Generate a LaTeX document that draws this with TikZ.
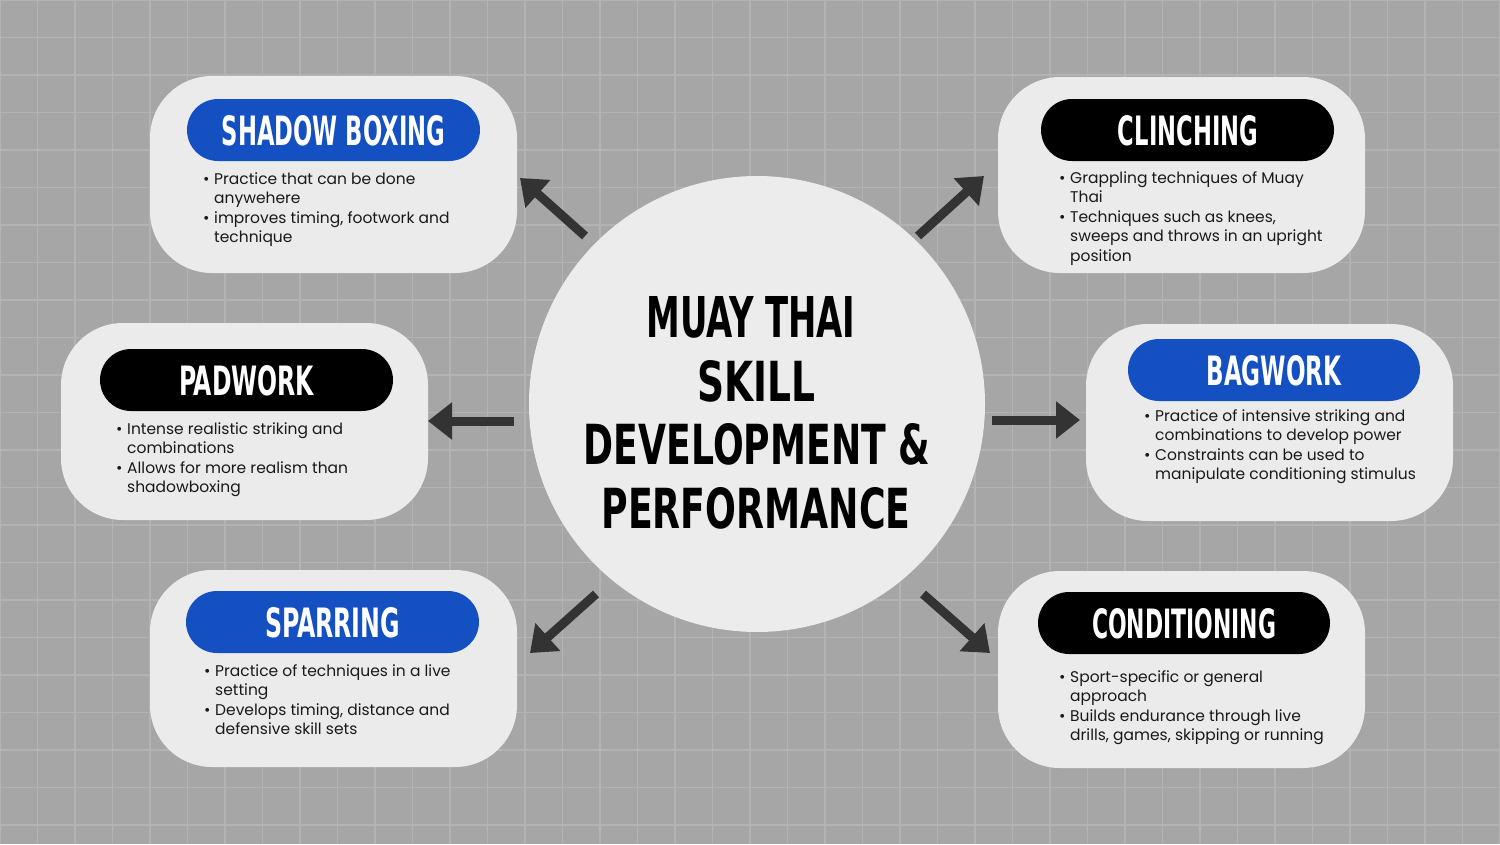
\documentclass[tikz,border=0pt]{standalone}
\usepackage{fontspec}
\setmainfont{Poppins}
\newfontfamily\ttlfont{DejaVu Sans Condensed}[FakeStretch=0.8]
\usetikzlibrary{arrows.meta}
\definecolor{bg}{HTML}{A6A6A6}
\definecolor{gridc}{HTML}{B3B3B3}
\definecolor{card}{HTML}{EBEBEB}
\definecolor{blu}{HTML}{1450C2}
\definecolor{arr}{HTML}{333333}
\tikzset{
 cardbox/.style={fill=card,rounded corners=62pt},
 pill/.style={rounded corners=31pt},
 body/.style={anchor=base west,inner sep=0pt,font=\fontsize{15.5pt}{19.5pt}\selectfont,text=black!90},
 ttl/.style={inner sep=0pt,text=white},
 arw/.style={draw=arr,line width=9pt,-{Triangle[length=24pt,width=36pt]}}
}
\newcommand{\ttlbox}[3]{\resizebox{#1pt}{#2pt}{\ttlfont\bfseries #3}}
\newcommand{\lns}[4]{%
 \node[body] (#1) at (#2,#3+6) {\begin{tabular}[t]{@{}l@{}}#4\end{tabular}};}
\newcommand{\bt}[3]{\node[body] (#1) at (#2-11,#3+6) {\textbullet};}
\begin{document}
\begin{tikzpicture}[x=1pt,y=-1pt]
\useasboundingbox (0,0) rectangle (1500,844);
\fill[bg] (0,0) rectangle (1500,844);
\foreach \i in {0,...,40} {\draw[gridc,line width=1.5pt] (\i*37.5,0) -- (\i*37.5,844);}
\foreach \j in {0,...,23} {\draw[gridc,line width=1.5pt] (0,\j*37.5) -- (1500,\j*37.5);}
% cards
\fill[cardbox] (150,76) rectangle (517,273);
\fill[cardbox] (998,77) rectangle (1365,273);
\fill[cardbox] (61,323) rectangle (428,520);
\fill[cardbox] (1086,324) rectangle (1453,521);
\fill[cardbox] (150,570) rectangle (517,767);
\fill[cardbox] (998,571) rectangle (1365,768);
% circle
\node[circle,fill=card!95!white,minimum size=456pt,inner sep=0pt] (hub) at (757,404) {};
% pills
\fill[pill,blu] (187,99) rectangle (480,161);
\fill[pill,black] (1041,99) rectangle (1334,161);
\fill[pill,black] (100,349) rectangle (393,411);
\fill[pill,blu] (1128,339) rectangle (1420,401);
\fill[pill,blu] (186,591) rectangle (479,653);
\fill[pill,black] (1038,592) rectangle (1330,654);
\node[ttl] (t1) at (333.5,131) {\ttlbox{223}{30}{SHADOW BOXING}};
\node[ttl] (t2) at (1188,131) {\ttlbox{140}{30}{CLINCHING}};
\node[ttl] (t3) at (246.5,381) {\ttlbox{135}{30}{PADWORK}};
\node[ttl] (t4) at (1274,371) {\ttlbox{135}{30}{BAGWORK}};
\node[ttl] (t5) at (332.5,623) {\ttlbox{135}{30}{SPARRING}};
\node[ttl] (t6) at (1184,624) {\ttlbox{184}{30}{CONDITIONING}};
% centre text
\node[inner sep=0pt] (c1) at (751,317) {\ttlbox{209}{41}{MUAY THAI}};
\node[inner sep=0pt] (c2) at (756,381) {\ttlbox{118}{41}{SKILL}};
\node[inner sep=0pt] (c3) at (757,444) {\ttlbox{346}{41}{DEVELOPMENT \&}};
\node[inner sep=0pt] (c4) at (756,508) {\ttlbox{309}{41}{PERFORMANCE}};
% bodies
\bt{b1a}{214}{178}\bt{b1b}{214}{217}
\lns{l1}{214}{178}{Practice that can be done\\anywehere\\improves timing, footwork and\\technique}
\bt{b2a}{1070}{177}\bt{b2b}{1070}{216}
\lns{l2}{1070}{177}{Grappling techniques of Muay\\Thai\\Techniques such as knees,\\sweeps and throws in an upright\\position}
\bt{b3a}{127}{428}\bt{b3b}{127}{467}
\lns{l3}{127}{428}{Intense realistic striking and\\combinations\\Allows for more realism than\\shadowboxing}
\bt{b4a}{1155}{415}\bt{b4b}{1155}{454}
\lns{l4}{1155}{415}{Practice of intensive striking and\\combinations to develop power\\Constraints can be used to\\manipulate conditioning stimulus}
\bt{b5a}{215}{670}\bt{b5b}{215}{709}
\lns{l5}{215}{670}{Practice of techniques in a live\\setting\\Develops timing, distance and\\defensive skill sets}
\bt{b6a}{1070}{676}\bt{b6b}{1070}{715}
\lns{l6}{1070}{676}{Sport-specific or general\\approach\\Builds endurance through live\\drills, games, skipping or running}
% arrows
\coordinate (a1s) at (585,236); \coordinate (a1e) at (520,178);
\coordinate (a2s) at (918,236); \coordinate (a2e) at (984,176);
\coordinate (a3s) at (514,421); \coordinate (a3e) at (428,421);
\coordinate (a4s) at (992,420); \coordinate (a4e) at (1080,420);
\coordinate (a5s) at (596,594); \coordinate (a5e) at (530,653);
\coordinate (a6s) at (923,594); \coordinate (a6e) at (990,653);
\foreach \k in {1,...,6} {\draw[arw] (a\k s) -- (a\k e);}
\end{tikzpicture}
\end{document}
